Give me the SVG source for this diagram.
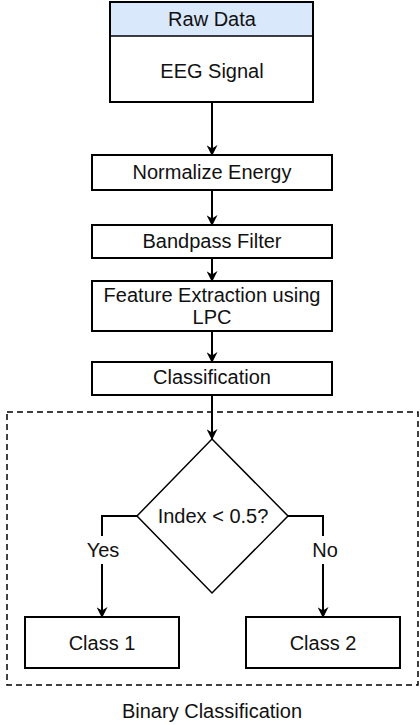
<svg xmlns="http://www.w3.org/2000/svg" width="420" height="725" viewBox="0 0 420 725">
<defs>
<style>
.box{fill:#fff;stroke:#000;stroke-width:2}
.t{font-family:"Liberation Sans",Arial,sans-serif;font-size:20px;fill:#111;text-anchor:middle}
.c{fill:none;stroke:#000;stroke-width:2}
</style>
<marker id="ah" viewBox="0 0 10 10" refX="9" refY="5" markerWidth="12" markerHeight="11" markerUnits="userSpaceOnUse" orient="auto">
<path d="M0,0 L10,5 L0,10 L3,5 z" fill="#000"/>
</marker>
</defs>
<rect width="420" height="725" fill="#fff"/>
<g id="group-binary">
<rect x="7" y="412" width="411" height="273" fill="none" stroke="#000" stroke-width="1.5" stroke-dasharray="6,4"/>
<text class="t" x="212" y="718">Binary Classification</text>
</g>
<g id="raw-data">
<rect x="110" y="2" width="203" height="100" class="box"/>
<rect x="111" y="3" width="201" height="33" fill="#dae8fc"/>
<line x1="110" y1="36" x2="313" y2="36" stroke="#000" stroke-width="1.5"/>
<text class="t" x="212" y="26">Raw Data</text>
<text class="t" x="212" y="78">EEG Signal</text>
</g>
<g id="normalize">
<rect x="92" y="155" width="240" height="35" class="box"/>
<text class="t" x="212" y="179">Normalize Energy</text>
</g>
<g id="bandpass">
<rect x="92" y="225" width="240" height="33" class="box"/>
<text class="t" x="212" y="248">Bandpass Filter</text>
</g>
<g id="feature">
<rect x="92" y="281" width="240" height="50" class="box"/>
<text class="t" x="212" y="302">Feature Extraction using</text>
<text class="t" x="212" y="324">LPC</text>
</g>
<g id="classification">
<rect x="92" y="362" width="240" height="33" class="box"/>
<text class="t" x="212" y="384">Classification</text>
</g>
<g id="decision">
<polygon points="212,439 288,516 212,593 137,516" fill="#fff" stroke="#000" stroke-width="1.5"/>
<text class="t" x="213" y="523">Index &lt; 0.5?</text>
</g>
<g id="class1">
<rect x="25" y="617" width="154" height="51" class="box"/>
<text class="t" x="102" y="650">Class 1</text>
</g>
<g id="class2">
<rect x="246" y="617" width="154" height="51" class="box"/>
<text class="t" x="323" y="650">Class 2</text>
</g>
<g id="connectors">
<line x1="212" y1="102" x2="212" y2="155" class="c" marker-end="url(#ah)"/>
<line x1="212" y1="190" x2="212" y2="225" class="c" marker-end="url(#ah)"/>
<line x1="212" y1="258" x2="212" y2="281" class="c" marker-end="url(#ah)"/>
<line x1="212" y1="331" x2="212" y2="362" class="c" marker-end="url(#ah)"/>
<line x1="212" y1="395" x2="212" y2="439" class="c" marker-end="url(#ah)"/>
<polyline points="137,516 102,516 102,617" class="c" marker-end="url(#ah)"/>
<polyline points="288,516 323,516 323,617" class="c" marker-end="url(#ah)"/>
<rect x="82" y="536" width="42" height="28" fill="#fff"/>
<text class="t" x="103" y="557">Yes</text>
<rect x="309" y="536" width="32" height="28" fill="#fff"/>
<text class="t" x="325" y="557">No</text>
</g>
</svg>
